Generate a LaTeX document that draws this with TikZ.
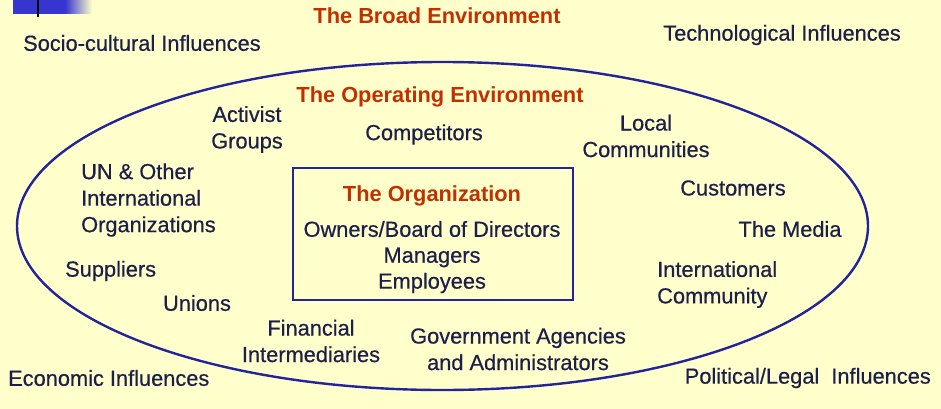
\documentclass[tikz,border=0pt]{standalone}
\usepackage{fontspec}
\setmainfont{Liberation Sans}[FakeBold=0.5]
\newfontfamily\titlefont{Liberation Sans}[Scale=1]
\usetikzlibrary{shapes.geometric}
\definecolor{bgyellow}{HTML}{FFFFCC}
\definecolor{navyline}{HTML}{23239A}
\definecolor{txtnavy}{HTML}{1E1E4A}
\definecolor{titlered}{HTML}{C23000}
\definecolor{blockblue}{HTML}{3535D0}
\tikzset{
  lbl/.style={text=txtnavy, inner sep=0pt, font=\fontsize{21.8}{26.5}\selectfont},
  ttl/.style={text=titlered, inner sep=0pt, font=\titlefont\fontsize{21.8}{26.5}\selectfont\bfseries},
  ring/.style={draw=navyline, line width=2.4pt},
  orgbox/.style={draw=navyline, line width=2pt}
}
\begin{document}
\begin{tikzpicture}[x=1pt,y=-1pt]
\fill[bgyellow] (0,0) rectangle (941,409);
\useasboundingbox (0,0) rectangle (941,409);
% top-left decoration
\fill[blockblue] (13,0) rectangle (65,14);
\shade[left color=blockblue, right color=bgyellow] (65,0) rectangle (92,14);
\draw[black, line width=2pt] (38,0) -- (38,17);
% ellipse and box
\node[ring, ellipse, minimum width=851pt, minimum height=328pt, inner sep=0pt] (oper) at (442.5,226) {};
\node[orgbox, rectangle, minimum width=280pt, minimum height=132pt, inner sep=0pt] (org) at (433,234) {};
% titles
\node[ttl] (broad) at (437,16) {The Broad Environment};
\node[ttl] (operT) at (440,97) {The Operating Environment};
\node[ttl] (orgT) at (432,196) {The Organization};
% organization members
\node[lbl] (owners) at (432,229) {Owners/Board of Directors};
\node[lbl] (managers) at (432,257.5) {Managers};
\node[lbl] (employees) at (432,283) {Employees};
% broad environment
\node[lbl, anchor=west] (socio) at (23,43) {Socio-cultural Influences};
\node[lbl, anchor=east] (tech) at (901,35) {Technological Influences};
\node[lbl, anchor=west] (econ) at (8,378) {Economic Influences};
\node[lbl, anchor=east] (polit) at (931,378) {Political/Legal\ \ Influences};
% operating environment
\node[lbl, align=center] (activist) at (247,129.5) {Activist\\Groups};
\node[lbl] (compet) at (424,134.5) {Competitors};
\node[lbl, align=center] (local) at (646,136) {Local\\Communities};
\node[lbl, align=left, anchor=west] (un) at (81,200) {UN \& Other\\International\\Organizations};
\node[lbl] (cust) at (733,188) {Customers};
\node[lbl] (media) at (790,229) {The Media};
\node[lbl, anchor=west] (suppl) at (65,271) {Suppliers};
\node[lbl, align=left, anchor=west] (intl) at (657,284.5) {International\\Community};
\node[lbl] (unions) at (197,303) {Unions};
\node[lbl, align=center] (fin) at (311,341) {Financial\\Intermediaries};
\node[lbl, align=center] (gov) at (518,349) {Government Agencies\\and Administrators};
\end{tikzpicture}
\end{document}
